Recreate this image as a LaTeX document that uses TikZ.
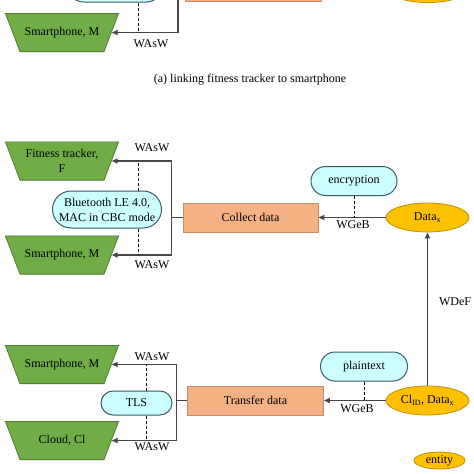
\documentclass[tikz,border=0pt]{standalone}
\usepackage{fontspec}
\setmainfont{Liberation Serif}
\usetikzlibrary{shapes.geometric,shapes.misc,arrows.meta,calc}
\definecolor{entgreen}{RGB}{112,173,71}
\definecolor{entgreenB}{RGB}{80,126,50}
\definecolor{pillfill}{RGB}{204,255,255}
\definecolor{pillB}{RGB}{60,90,105}
\definecolor{actfill}{RGB}{244,177,131}
\definecolor{actB}{RGB}{200,140,100}
\definecolor{datfill}{RGB}{255,192,0}
\definecolor{datB}{RGB}{191,144,0}
\definecolor{lin}{RGB}{70,70,70}
\tikzset{
  every node/.style={font=\fontsize{12}{15}\selectfont, text=black},
  ent/.style={rectangle, minimum width=114pt, minimum height=39pt,
    inner sep=1pt, align=center,
    path picture={\path[fill=entgreen, draw=entgreenB, line width=0.8pt]
      ([xshift=0.4pt,yshift=-0.4pt]path picture bounding box.north west) --
      ([xshift=-0.4pt,yshift=-0.4pt]path picture bounding box.north east) --
      ([xshift=-15pt,yshift=0.4pt]path picture bounding box.south east) --
      ([xshift=15pt,yshift=0.4pt]path picture bounding box.south west) -- cycle;}},
  pill/.style={rounded rectangle, fill=pillfill, draw=pillB, line width=1pt,
    inner sep=1pt, align=center},
  act/.style={rectangle, fill=actfill, draw=actB, line width=0.8pt, inner sep=1pt},
  dat/.style={ellipse, fill=datfill, draw=datB, line width=0.8pt, inner sep=0pt},
  conn/.style={draw=lin, line width=1.2pt, -{Triangle[length=6pt,width=5pt]}},
  dsh/.style={draw=black, line width=1pt, dash pattern=on 3pt off 2pt},
  lab/.style={inner sep=0pt}
}
\begin{document}
\begin{tikzpicture}[x=1pt,y=-1pt]
\useasboundingbox (0,0) rectangle (474,474);
\clip (0,0) rectangle (474,474);
% ---------- top (partial) section ----------
\node[pill, minimum width=100pt, minimum height=36pt] (p0) at (115,-16) {};
\node[act, minimum width=136pt, minimum height=29pt] (a0) at (253,-13) {};
\node[dat, minimum width=83pt, minimum height=29pt] (d0) at (428,-12) {};
\node[ent] (sm1) at (62,32.5) {Smartphone, M};
\coordinate (c1) at (178,-5);
\coordinate (k1) at (138,0);
\draw[conn] (c1) |- ([xshift=-7.5pt]sm1.east);
\draw[dsh] (p0.south -| k1) -- (sm1.east -| k1);
\node[lab] (w1) at (151,44) {WAsW};
\node[lab] (cap) at (250,80) {(a) linking fitness tracker to smartphone};
% ---------- middle section ----------
\node[ent] (ft) at (62,161) {Fitness tracker,\\F};
\node[ent] (sm2) at (62,255) {Smartphone, M};
\node[pill, minimum width=111pt, minimum height=37pt] (bt) at (107,209.5)
  {Bluetooth LE 4.0,\\MAC in CBC mode};
\node[act, minimum width=135pt, minimum height=29pt] (cd) at (250.5,217.5) {Collect data};
\node[pill, minimum width=88pt, minimum height=29pt] (enc) at (354,181) {encryption};
\node[dat, minimum width=83pt, minimum height=29pt] (dx) at (427.5,217.5) {Data\textsubscript{x}};
\coordinate (k2) at (138,0);
\draw[conn] (cd.west) -- ++(-11,0) |- ([xshift=-7.5pt]ft.east);
\draw[conn] (cd.west) -- ++(-11,0) |- ([xshift=-7.5pt]sm2.east);
\draw[dsh] (bt.north -| k2) -- (ft.east -| k2);
\draw[dsh] (bt.south -| k2) -- (sm2.east -| k2);
\node[lab] (w2) at (152,148) {WAsW};
\node[lab] (w3) at (152,265) {WAsW};
\draw[conn] (dx.west) -- (cd.east);
\draw[dsh] (enc.south) -- (enc.south |- dx.west);
\node[lab] (g1) at (353,225) {WGeB};
% ---------- bottom section ----------
\node[ent] (sm3) at (62,364.5) {Smartphone, M};
\node[ent] (cl) at (62,440.5) {Cloud, Cl};
\node[pill, minimum width=73pt, minimum height=24pt] (tls) at (136.5,403) {TLS};
\node[act, minimum width=136pt, minimum height=29pt] (td) at (255.5,400.5) {Transfer data};
\node[pill, minimum width=89pt, minimum height=29pt] (pt) at (364,366.5) {plaintext};
\node[dat, minimum width=83pt, minimum height=29pt] (cdx) at (427.5,400.5)
  {Cl\textsubscript{ID}, Data\textsubscript{x}};
\node[dat, minimum width=51pt, minimum height=17pt] (en) at (439.5,460.5) {entity};
\coordinate (k3) at (146,0);
\draw[conn] (td.west) -- ++(-11,0) |- ([xshift=-7.5pt]sm3.east);
\draw[conn] (td.west) -- ++(-11,0) |- ([xshift=-7.5pt]cl.east);
\draw[dsh] (tls.north -| k3) -- (sm3.east -| k3);
\draw[dsh] (tls.south -| k3) -- (cl.east -| k3);
\node[lab] (w4) at (152,357) {WAsW};
\node[lab] (w5) at (152,447) {WAsW};
\draw[conn] (cdx.west) -- (td.east);
\draw[dsh] (pt.south) -- (pt.south |- cdx.west);
\node[lab] (g2) at (357,409) {WGeB};
\draw[conn] (cdx.north) -- (dx.south);
\node[lab] (df) at (455,302) {WDeF};
\end{tikzpicture}
\end{document}
